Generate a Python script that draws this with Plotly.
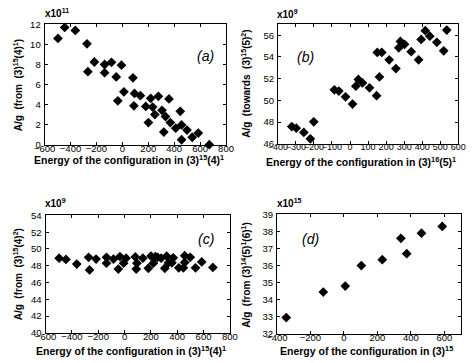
import plotly.graph_objects as go

W, H = 474, 363

# ---- data ----
a_x = [-497, -445, -363, -273, -266, -216, -137, -137, -84, -47, -35, -7, 12, 82, 89, 94, 139, 181,
       201, 219, 234, 251, 278, 306, 320, 333, 360, 370, 412, 447, 457, 457, 499, 539, 586, 671]
a_y = [10.6, 11.7, 11.4, 10.07, 7.28, 8.25, 8.0, 7.18, 8.22, 6.76, 4.37, 7.93, 5.27, 6.67, 3.88, 5.11, 4.89, 3.82,
       2.2, 4.63, 3.75, 3.0, 4.82, 3.43, 1.26, 2.8, 4.56, 2.2, 1.65, 3.33, 1.97, 0.49, 1.46, 0.74, 1.16, 0.0]

b_x = [-323, -298, -256, -220, -201, -87, -62, -25, 14, 32, 46, 69, 108, 147, 151, 163, 176, 217, 254,
       270, 279, 302, 339, 380, 394, 417, 442, 481, 519, 536]
b_y = [47.58, 47.43, 47.04, 46.45, 48.02, 50.97, 50.85, 50.32, 49.66, 51.3, 51.92, 51.6, 51.15, 50.43, 54.42,
       52.16, 54.42, 53.74, 52.93, 54.84, 55.43, 55.17, 54.48, 53.74, 55.61, 56.42, 55.91, 55.35, 54.57, 56.48]

c_x = a_x
c_y = [48.9, 48.75, 48.2, 49.0, 47.5, 48.8, 49.0, 48.3, 48.8, 47.6, 49.1, 48.3, 48.9, 49.05, 47.6, 48.3, 48.9, 47.7,
       49.15, 48.3, 49.1, 49.0, 48.9, 47.7, 49.15, 48.35, 48.35, 48.95, 47.75, 47.75, 49.2, 48.4, 49.0, 47.75, 48.45, 47.8]

d_x = [-344, -123, 8, 104, 229, 340, 375, 463, 587]
d_y = [32.95, 34.45, 34.8, 36.0, 36.35, 37.6, 36.7, 37.9, 38.3]

FONT = "Liberation Sans, Arial, Helvetica, sans-serif"


def px(x):
    return x / W


def py(y):
    return 1 - y / H


panels = [
    dict(x=a_x, y=a_y, xd=(35, 224), yd=(19, 143), xr=(-600, 800), yr=(0, 12), dx=200, dy=2, fs=9.5),
    dict(x=b_x, y=b_y, xd=(278, 466), yd=(19, 142), xr=(-400, 600), yr=(46, 57), dx=100, dy=2, fs=9),
    dict(x=c_x, y=c_y, xd=(36, 228), yd=(216, 337), xr=(-600, 800), yr=(40, 54), dx=200, dy=2, fs=9.5),
    dict(x=d_x, y=d_y, xd=(277, 469), yd=(215, 338), xr=(-400, 700), yr=(32, 39), dx=200, dy=1, fs=9.5),
]

fig = go.Figure()
layout = {}
for i, p in enumerate(panels):
    n = "" if i == 0 else str(i + 1)
    fig.add_trace(go.Scatter(
        x=p["x"], y=p["y"], mode="markers",
        marker=dict(symbol="diamond", size=7.5, color="black", line=dict(width=0)),
        xaxis="x" + n, yaxis="y" + n, showlegend=False, cliponaxis=False))
    common = dict(showline=True, linecolor="black", linewidth=1, mirror="ticks",
                  ticks="inside", ticklen=3, tickcolor="black", showgrid=False, zeroline=False)
    layout["xaxis" + n] = dict(common, domain=[px(p["xd"][0]), px(p["xd"][1])], range=list(p["xr"]),
                               dtick=p["dx"], tick0=0, anchor="y" + n, ticklabelstandoff=-5, tickangle=0,
                               tickfont=dict(family=FONT, size=p["fs"], color="black"))
    layout["yaxis" + n] = dict(common, domain=[py(p["yd"][1]), py(p["yd"][0])], range=list(p["yr"]),
                               dtick=p["dy"], tick0=0, anchor="x" + n, ticklabelstandoff=1,
                               tickfont=dict(family=FONT, size=9.5, color="black"))

fig.update_layout(**layout)

ann = []


def text(x, y, s, size=10, bold=True, italic=False, angle=0, xanchor="center", yanchor="middle"):
    if bold:
        s = "<b>" + s + "</b>"
    if italic:
        s = "<i>" + s + "</i>"
    ann.append(dict(x=px(x), y=py(y), xref="paper", yref="paper", text=s, showarrow=False,
                    textangle=angle, xanchor=xanchor, yanchor=yanchor,
                    font=dict(family=FONT, size=size, color="black")))


# multipliers
text(33, 7, "x10<sup>11</sup>", size=10, xanchor="left")
text(275, 8, "x10<sup>9</sup>", size=10, xanchor="left")
text(33, 203, "x10<sup>9</sup>", size=10, xanchor="left")
text(275, 203, "x10<sup>15</sup>", size=10, xanchor="left")

# panel labels
text(203, 52, "(a)", size=14, bold=False, italic=True)
text(307, 53, "(b)", size=14, bold=False, italic=True)
text(203, 240, "(c)", size=14, bold=False, italic=True)
text(312, 240, "(d)", size=14, bold=False, italic=True)

# x axis titles
text(123, 158, "Energy of the configuration in (3)<sup>15</sup>(4)<sup>1</sup>", size=10.5)
text(365, 160, "Energy of the configuration in (3)<sup>16</sup>(5)<sup>1</sup>", size=10.5)
text(125, 355, "Energy of the configuration in (3)<sup>15</sup>(4)<sup>1</sup>", size=10.5)
text(370, 355, "Energy of the configuration in (3)<sup>15</sup>", size=10.5)

# y axis titles
text(7, 82, "A/g  (from  (3)<sup>15</sup>(4)<sup>1</sup>)", size=10, angle=-90)
text(244, 80, "A/g  (towards  (3)<sup>15</sup>(5)<sup>2</sup>)", size=10, angle=-90)
text(7, 277, "A/g  (from  (3)<sup>15</sup>(4)<sup>2</sup>)", size=10, angle=-90)
text(244, 277, "A/g  (from (3)<sup>14</sup>(5)<sup>1</sup>(6)<sup>1</sup>)", size=10, angle=-90)

fig.update_layout(
    width=W, height=H, margin=dict(l=0, r=0, t=0, b=0),
    paper_bgcolor="white", plot_bgcolor="white",
    annotations=ann, font=dict(family=FONT, color="black"),
)

fig.write_html("out.html", config={"displayModeBar": False},
               post_script="document.body.style.margin='0px';")
